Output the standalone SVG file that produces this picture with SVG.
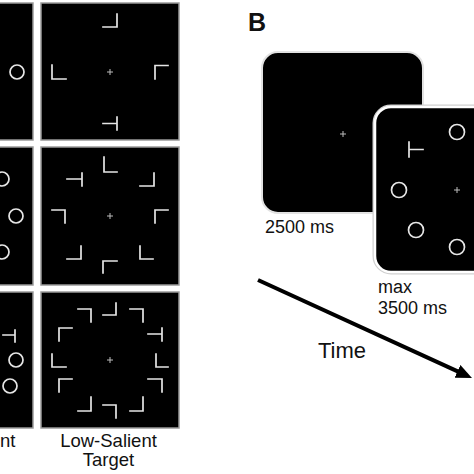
<svg xmlns="http://www.w3.org/2000/svg" width="474" height="474" viewBox="0 0 474 474">
<style>
.panel{fill:#000;stroke:#9a9a9a;stroke-width:1.5}
.el{fill:none;stroke:#e6e6e6;stroke-width:1.7;stroke-linecap:square}
.fix{fill:none;stroke:#bdbdbd;stroke-width:1}
.circ{fill:none;stroke:#e6e6e6;stroke-width:1.7}
.lbl{font-family:"Liberation Sans",Arial,sans-serif;fill:#111}
</style>
<defs>
<marker id="ah" viewBox="0 0 16 14" refX="5" refY="7" markerWidth="16" markerHeight="14" orient="auto" markerUnits="userSpaceOnUse">
<path d="M0,0 L16,7 L0,14 z" fill="#000"/>
</marker>
</defs>
<rect width="474" height="474" fill="#fff"/>

<!-- Panel A left column (partially visible) -->
<g id="a-left-1">
<rect class="panel" x="-10" y="3" width="43" height="137"/>
<circle class="circ" cx="17" cy="72" r="7"/>
</g>
<g id="a-left-2">
<rect class="panel" x="-10" y="147" width="43" height="138"/>
<circle class="circ" cx="2" cy="179" r="7"/>
<circle class="circ" cx="16" cy="216" r="7"/>
<circle class="circ" cx="2" cy="252" r="7"/>
</g>
<g id="a-left-3">
<rect class="panel" x="-10" y="292" width="43" height="136"/>
<path class="el" d="M3,335 H15 M15,330 V342"/>
<circle class="circ" cx="16" cy="360" r="7"/>
<circle class="circ" cx="10" cy="386" r="7"/>
</g>

<!-- Panel A middle column -->
<g id="a-mid-1">
<rect class="panel" x="41" y="3" width="138" height="137"/>
<path class="fix" d="M107,72 H113 M110,69 V75"/>
<path class="el" d="M117,14 V27 H103"/>
<path class="el" d="M52,65 V79 H66"/>
<path class="el" d="M155,79 V65.5 H168"/>
<path class="el" d="M117,117 V130 M103,123.5 H117"/>
</g>
<g id="a-mid-2">
<rect class="panel" x="41" y="147" width="138" height="138"/>
<path class="fix" d="M107,216 H113 M110,213 V219"/>
<path class="el" d="M104,157 V172 H117"/>
<path class="el" d="M67,179 H82 M82,173 V186"/>
<path class="el" d="M154,173 V186 H140"/>
<path class="el" d="M52,210 H65 V223"/>
<path class="el" d="M155,223 V210 H168"/>
<path class="el" d="M81,246 V259 H67"/>
<path class="el" d="M140,246 V259 H153"/>
<path class="el" d="M103,273 V261 H117"/>
</g>
<g id="a-mid-3">
<rect class="panel" x="41" y="292" width="138" height="136"/>
<path class="fix" d="M107,360 H113 M110,357 V363"/>
<path class="el" d="M78,309 H91 V322"/>
<path class="el" d="M116,303 V315 H103"/>
<path class="el" d="M130,309 H143 V322"/>
<path class="el" d="M59,341 V328 H72"/>
<path class="el" d="M148,334 H162 M162,328 V341"/>
<path class="el" d="M52,354 V367 H66"/>
<path class="el" d="M156,354 V367 H168"/>
<path class="el" d="M59,392 V379 H72"/>
<path class="el" d="M148,379 H162 V392"/>
<path class="el" d="M91,397 V411 H78"/>
<path class="el" d="M103,405 H116 V418"/>
<path class="el" d="M143,397 V411 H130"/>
</g>

<text class="lbl" x="15.5" y="447" font-size="18.5" text-anchor="end">nt</text>
<text class="lbl" x="108.5" y="447" font-size="18.5" text-anchor="middle">Low-Salient</text>
<text class="lbl" x="108.5" y="466" font-size="18.5" text-anchor="middle">Target</text>

<!-- Panel B -->
<text class="lbl" x="248" y="31" font-size="25" font-weight="bold">B</text>

<g id="b-fixation">
<rect x="262" y="52" width="161" height="161" rx="16" fill="#000" stroke="#e2e2e2" stroke-width="2"/>
<path class="fix" d="M340,134 H346 M343,131 V137"/>
</g>
<g id="b-search">
<rect x="375" y="107" width="162" height="165" rx="16" fill="#000" stroke="#d0d0d0" stroke-width="5"/>
<rect x="375" y="107" width="162" height="165" rx="16" fill="#000" stroke="#fff" stroke-width="2.5"/>
<path class="fix" d="M454,190 H460 M457,187 V193"/>
<circle class="circ" cx="457" cy="132" r="7.5"/>
<path class="el" d="M409,142 V157 M409,149.5 H423"/>
<circle class="circ" cx="399" cy="190" r="7.5"/>
<circle class="circ" cx="416" cy="230" r="7.5"/>
<circle class="circ" cx="457" cy="247" r="7.5"/>
</g>

<text class="lbl" x="265" y="233" font-size="18">2500 ms</text>
<text class="lbl" x="378" y="293" font-size="18">max</text>
<text class="lbl" x="378" y="314" font-size="18">3500 ms</text>

<g id="connectors">
<line x1="258" y1="280" x2="462" y2="373.4" stroke="#000" stroke-width="4" marker-end="url(#ah)"/>
</g>
<text class="lbl" x="318" y="358" font-size="22">Time</text>
</svg>
